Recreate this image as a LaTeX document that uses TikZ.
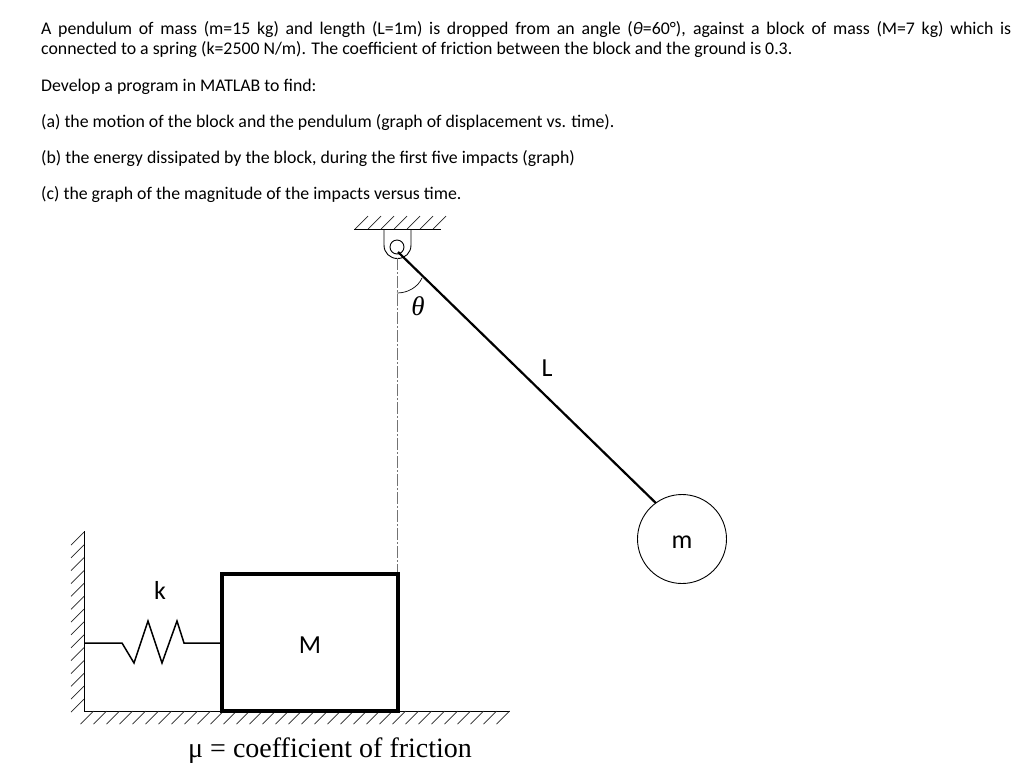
\documentclass[tikz,border=0pt]{standalone}
\usepackage{fontspec}
\setmainfont{Carlito}
\newfontfamily\serifcap{Liberation Serif}
\tikzset{
  x=1pt,y=-1pt,
  para/.style={anchor=west,inner sep=0pt,font=\fontsize{17.8}{20}\selectfont},
  lab/.style={inner sep=0pt,font=\fontsize{26}{28}\selectfont},
  hatch/.style={line width=0.7pt,black!85},
  support/.style={line width=0.9pt},
  rod/.style={line width=2.2pt}
}
\begin{document}
\begin{tikzpicture}
\useasboundingbox (0,0) rectangle (1022,780);
\fill[white] (0,0) rectangle (1022,780);
% text
\node[para] (t1) at (41,29.5) {\makebox[970pt][s]{A pendulum of mass (m=15 kg) and length (L=1m) is dropped from an angle ({\itshape θ}=60°), against a block of mass (M=7 kg) which is}};
\node[para] (t2) at (41,49.5) {connected to a spring (k=2500 N/m). The coefficient of friction between the block and the ground is 0.3.};
\node[para] (t3) at (41,87) {Develop a program in MATLAB to find:};
\node[para] (t4) at (41,123) {(a) the motion of the block and the pendulum (graph of displacement vs. time).};
\node[para] (t5) at (41,159) {(b) the energy dissipated by the block, during the first five impacts (graph)};
\node[para] (t6) at (41,195) {(c) the graph of the magnitude of the impacts versus time.};
% ceiling
\coordinate (cl) at (354,229);
\coordinate (cr) at (441,229);
\draw[support] (cl) -- (cr);
\foreach \i in {0,...,6} \draw[hatch] (355+13*\i,229) -- ++(13,-13);
% pivot clevis
\coordinate (pivot) at (397,247);
\draw[support] (384,229) -- (384,245) .. controls (384,253) and (390,258.5) .. (397.5,258.5) .. controls (405,258.5) and (411,253) .. (411,245) -- (411,229);
\node[circle,draw,line width=0.9pt,minimum size=14pt,inner sep=0pt,outer sep=0pt] (pin) at (pivot) {};
% centre line
\coordinate (vbot) at (397,574);
\draw[line width=0.6pt,black!55,dash pattern=on 12pt off 2pt on 2pt off 2pt] (397,258) -- (vbot);
% ball and rod
\node[circle,draw,line width=0.9pt,minimum size=89pt,inner sep=0pt,outer sep=0pt] (ball) at (682,539) {};
\node[lab] (mlab) at (682,542) {m};
\draw[rod] (398,252) -- (ball.126);
% angle
\draw[line width=0.7pt] (397,293) .. controls (408,293) and (418,287) .. (422,278);
\node[inner sep=0pt,font=\fontsize{27}{29}\selectfont\serifcap\itshape] (th) at (418,306) {θ};
\node[lab] (Llab) at (547,368) {L};
% wall and floor
\coordinate (wtop) at (84,531);
\coordinate (corner) at (84,711);
\coordinate (fend) at (510,711);
\draw[support] (wtop) -- (corner) -- (fend);
\foreach \i in {0,...,13} \draw[hatch] (84,532+12.85*\i) -- ++(-13,13);
\foreach \i in {0,...,32} \draw[hatch] (93.5+13*\i,711) -- ++(-13,13);
% block
\node[draw,line width=3.2pt,minimum width=176pt,minimum height=137pt,inner sep=0pt,outer sep=0pt] (block) at (310,642.5) {};
\node[lab] (Mlab) at (310,645) {M};
% spring
\coordinate (wallpt) at (84,643);
\draw[line width=1.5pt,line join=miter] (wallpt) -- (122,643) -- (134,663) -- (148,621) -- (162,663) -- (177,621) -- (184,643) -- (block.west |- wallpt);
\node[lab] (klab) at (160,590) {k};
% friction
\node[inner sep=0pt,anchor=west,font=\fontsize{28}{30}\selectfont\serifcap] (mu) at (188,751) {μ = coefficient of friction};
\end{tikzpicture}
\end{document}
